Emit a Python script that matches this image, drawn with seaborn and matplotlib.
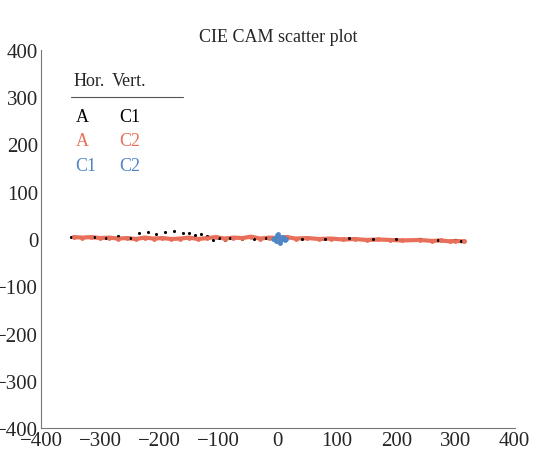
import matplotlib
matplotlib.use("Agg")
import matplotlib.pyplot as plt
import seaborn as sns
import pandas as pd

# Hor. A / Vert. C1 (black)
a_c1_x = [-350, -330, -310, -290, -270, -250, -235, -220, -205, -190, -175, -160, -150, -140,
          -130, -120, -110, -100, -90, -80, -60, -40, -20, 10, 40, 80, 120, 160, 200, 240, 270, 300, 310]
a_c1_y = [4, 3, 5, 2, 6, 3, 12, 15, 10, 14, 16, 12, 13, 8, 10, 6, -2, 3, -3, 2, 1, 0, 2, -1, 1, 0, 2, 0, 1, -1, -2, -3, -4]
# Hor. A / Vert. C2 (salmon)
a_c2_x = [-345, -330, -315, -300, -285, -270, -255, -240, -225, -210, -195, -180, -165, -150, -135,
          -120, -105, -90, -75, -60, -45, -30, -15, 0, 15, 30, 50, 70, 90, 110, 130, 150, 170, 190,
          210, 240, 260, 275, 290, 300, 315]
a_c2_y = [4, 3, 4, 2, 3, 1, 2, 0, 3, 1, 2, 0, 1, 3, 0, 2, 4, 1, 3, 2, 5, 1, 3, 2, 4, 1, 2, 0, 1, -1, 0, -2, -1, -2,
          -3, -2, -4, -3, -5, -4, -5]
# Hor. C1 / Vert. C2 (blue)
c1_c2_x = [-8, -5, -3, 0, 2, 4, 6, 8, 10, 12, -2, 3, 7, 14, 1, 5]
c1_c2_y = [0, 3, -4, 6, -6, 2, -2, 5, 1, -3, 8, -8, 4, 0, 10, -1]

sns.set_style("white")
plt.rcParams['font.family'] = ['Liberation Serif', 'DejaVu Serif']

df = pd.concat([
    pd.DataFrame({'x': a_c1_x, 'y': a_c1_y, 'g': 'A/C1'}),
    pd.DataFrame({'x': a_c2_x, 'y': a_c2_y, 'g': 'A/C2'}),
    pd.DataFrame({'x': c1_c2_x, 'y': c1_c2_y, 'g': 'C1/C2'}),
])
palette = {'A/C1': 'black', 'A/C2': '#e8705a', 'C1/C2': '#4f86c6'}

fig, ax = plt.subplots(figsize=(5.4, 4.52), dpi=100)
fig.subplots_adjust(left=0.076, right=0.953, top=0.888, bottom=0.05)

ax.plot(a_c2_x, a_c2_y, color=palette['A/C2'], lw=3, zorder=1)
for g, sub in df.groupby('g'):
    size = 12 if g != 'A/C1' else 5
    sns.scatterplot(data=sub, x='x', y='y', color=palette[g], s=size, linewidth=0,
                    marker='o', ax=ax, legend=False, zorder=3)

ticks = list(range(-400, 401, 100))
labels = [f'\u2212{abs(v)}' if v < 0 else str(v) for v in ticks]
ax.set_xlim(-400, 400)
ax.set_ylim(-400, 400)
ax.set_xticks(ticks)
ax.set_yticks(ticks)
ax.set_xticklabels(labels)
ax.set_yticklabels(labels)
ax.set_xlabel('')
ax.set_ylabel('')
ax.tick_params(labelsize=15, length=4, direction='in', color='#777777', pad=2)
sns.despine(ax=ax)
for s in ['left', 'bottom']:
    ax.spines[s].set_color('#777777')
ax.set_title('CIE CAM scatter plot', fontsize=13)

# table-style legend
rows = [('A', 'C1', 'black'), ('A', 'C2', '#e8705a'), ('C1', 'C2', '#4f86c6')]
ax.text(-345, 325, 'Hor.', fontsize=13)
ax.text(-280, 325, 'Vert.', fontsize=13)
ax.plot([-350, -160], [300, 300], color='#555555', lw=0.8)
for i, (h, v, c) in enumerate(rows):
    yy = 250 - i * 52
    ax.text(-342, yy, h, fontsize=13, color=c)
    ax.text(-268, yy, v, fontsize=13, color=c)

fig.savefig('out.png', dpi=100)
